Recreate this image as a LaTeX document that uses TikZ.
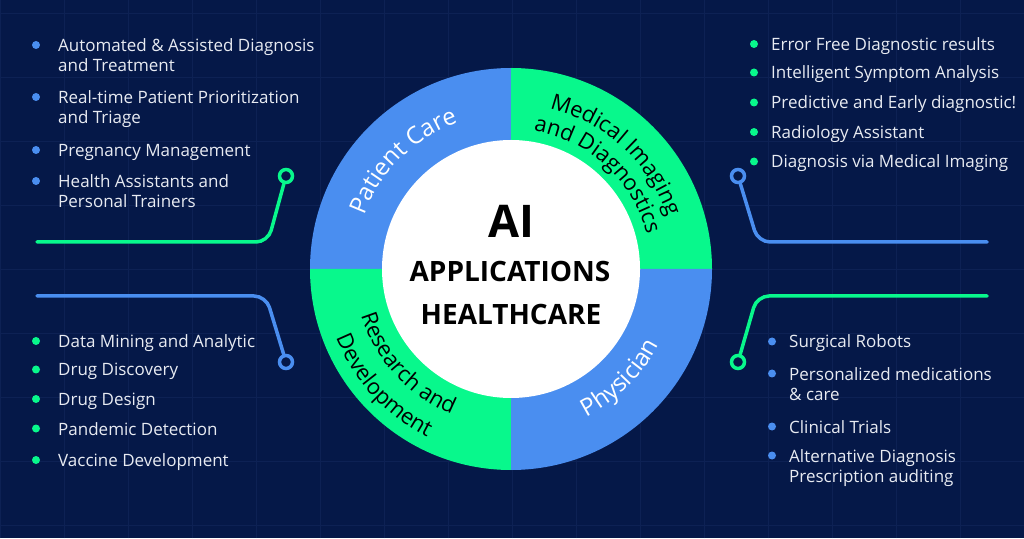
\documentclass[tikz,border=0pt]{standalone}
\usepackage{fontspec}
\setmainfont{Open Sans}
\usetikzlibrary{decorations.text}
\definecolor{navy}{RGB}{5,24,72}
\definecolor{gridblue}{RGB}{13,33,84}
\definecolor{skyblue}{RGB}{74,142,240}
\definecolor{mint}{RGB}{8,248,140}
\definecolor{paper}{RGB}{232,235,242}
\newcommand{\listfont}{\fontsize{17}{20.5}\selectfont}
\newcommand{\ringfont}{\fontsize{24}{24}\selectfont}
\newcommand{\bandfont}{\fontsize{22}{22}\selectfont}

\begin{document}
\begin{tikzpicture}[x=1pt,y=1pt]
	\tikzstyle{Item} = [anchor=base west, inner sep=0pt, text=paper, align=left, font=\listfont]
	\tikzstyle{BlueDot} = [circle, fill=skyblue, minimum size=8, inner sep=0pt]
	\tikzstyle{MintDot} = [circle, fill=mint, minimum size=8, inner sep=0pt]
	\tikzstyle{Ring} = [circle, draw, line width=3.5, fill=navy, minimum size=13, inner sep=0pt]
	\tikzstyle{Wire} = [line width=3.5, line cap=round, rounded corners=12]
	\tikzstyle{Title} = [anchor=base, inner sep=0pt, text=black]
	\useasboundingbox (0,0) rectangle (1024,538);
	\fill [navy] (0,0) rectangle (1024,538);
	\draw [gridblue, line width=0.7, shift={(0,13)}] (0,-13) grid [step=64] (1024,525);
	% wheel
	\coordinate (O) at (511,269);
	\fill [skyblue] (O) -- ++(90:201) arc (90:180:201) -- cycle;
	\fill [mint] (O) -- ++(0:201) arc (0:90:201) -- cycle;
	\fill [mint] (O) -- ++(180:201) arc (180:270:201) -- cycle;
	\fill [skyblue] (O) -- ++(270:201) arc (270:360:201) -- cycle;
	\node (hub) at (O) [circle, fill=white, minimum size=258, inner sep=0pt] {};
	\node (ai) at (511,300) [Title, font=\fontsize{45}{45}\selectfont\bfseries] {AI};
	\node (apps) at (510,256) [Title, font=\fontsize{28}{28}\selectfont\bfseries] {APPLICATIONS};
	\node (care) at (511,213) [Title, font=\fontsize{28}{28}\selectfont\bfseries] {HEALTHCARE};
	\path [decorate, decoration={text along path, text align=center, text={|\ringfont\color{white}|Patient Care}}] ([shift={(180:156)}]O) arc (180:90:156);
	\path [decorate, decoration={text along path, text align=center, text={|\bandfont\color{black}|Medical Imaging}}] ([shift={(95:165)}]O) arc (95:0:165);
	\path [decorate, decoration={text along path, text align=center, text={|\bandfont\color{black}|and Diagnostics}}] ([shift={(95:140)}]O) arc (95:0:140);
	\path [decorate, decoration={text along path, text align=center, text={|\bandfont\color{black}|Research and}}] ([shift={(175:157)}]O) arc (175:270:157);
	\path [decorate, decoration={text along path, text align=center, text={|\bandfont\color{black}|Development}}] ([shift={(175:188)}]O) arc (175:270:188);
	\path [decorate, decoration={text along path, text align=center, text={|\ringfont\color{white}|Physician}}] ([shift={(270:166)}]O) arc (270:360:166);
	% connectors
	\node (r1) at (286,362) [Ring, draw=mint] {};
	\node (r2) at (738,362) [Ring, draw=skyblue] {};
	\node (r3) at (286,176) [Ring, draw=skyblue] {};
	\node (r4) at (738,176) [Ring, draw=mint] {};
	\coordinate (e1) at (37,296);
	\coordinate (k1) at (268,296);
	\coordinate (e2) at (987,296);
	\coordinate (k2) at (758,296);
	\coordinate (e3) at (37,242);
	\coordinate (k3) at (266,242);
	\coordinate (e4) at (987,242);
	\coordinate (k4) at (757,242);
	\draw [Wire, mint] (e1) -- (k1) -- (r1);
	\draw [Wire, skyblue] (e2) -- (k2) -- (r2);
	\draw [Wire, skyblue] (e3) -- (k3) -- (r3);
	\draw [Wire, mint] (e4) -- (k4) -- (r4);
	% patient care
	\node (pc1) at (36,493) [BlueDot] {};
	\node (pct1) at (58,466) [Item] {Automated \& Assisted Diagnosis\\and Treatment};
	\node (pc2) at (36,441) [BlueDot] {};
	\node (pct2) at (58,414) [Item] {Real-time Patient Prioritization\\and Triage};
	\node (pc3) at (36,388) [BlueDot] {};
	\node (pct3) at (58,381.5) [Item] {Pregnancy Management};
	\node (pc4) at (36,357) [BlueDot] {};
	\node (pct4) at (58,330) [Item] {Health Assistants and\\Personal Trainers};
	% medical imaging
	\node (md1) at (754,494) [MintDot] {};
	\node (mdt1) at (771,487.5) [Item] {Error Free Diagnostic results};
	\node (md2) at (754,465.5) [MintDot] {};
	\node (mdt2) at (771,459) [Item] {Intelligent Symptom Analysis};
	\node (md3) at (754,435.5) [MintDot] {};
	\node (mdt3) at (771,429) [Item] {Predictive and Early diagnostic!};
	\node (md4) at (754,406) [MintDot] {};
	\node (mdt4) at (771,399.5) [Item] {Radiology Assistant};
	\node (md5) at (754,376.5) [MintDot] {};
	\node (mdt5) at (771,370) [Item] {Diagnosis via Medical Imaging};
	% research
	\node (rd1) at (36,197) [MintDot] {};
	\node (rdt1) at (58,190.5) [Item] {Data Mining and Analytic};
	\node (rd2) at (36,168.5) [MintDot] {};
	\node (rdt2) at (58,162) [Item] {Drug Discovery};
	\node (rd3) at (36,139) [MintDot] {};
	\node (rdt3) at (58,132.5) [Item] {Drug Design};
	\node (rd4) at (36,109.5) [MintDot] {};
	\node (rdt4) at (58,103) [Item] {Pandemic Detection};
	\node (rd5) at (36,78) [MintDot] {};
	\node (rdt5) at (58,71.5) [Item] {Vaccine Development};
	% physician
	\node (ph1) at (772,196.5) [BlueDot] {};
	\node (pht1) at (789,190) [Item] {Surgical Robots};
	\node (ph2) at (772,164.5) [BlueDot] {};
	\node (pht2) at (789,137.5) [Item] {Personalized medications\\\& care};
	\node (ph3) at (772,111.5) [BlueDot] {};
	\node (pht3) at (789,105) [Item] {Clinical Trials};
	\node (ph4) at (772,82.5) [BlueDot] {};
	\node (pht4) at (789,55.5) [Item] {Alternative Diagnosis\\Prescription auditing};
\end{tikzpicture}
\end{document}
